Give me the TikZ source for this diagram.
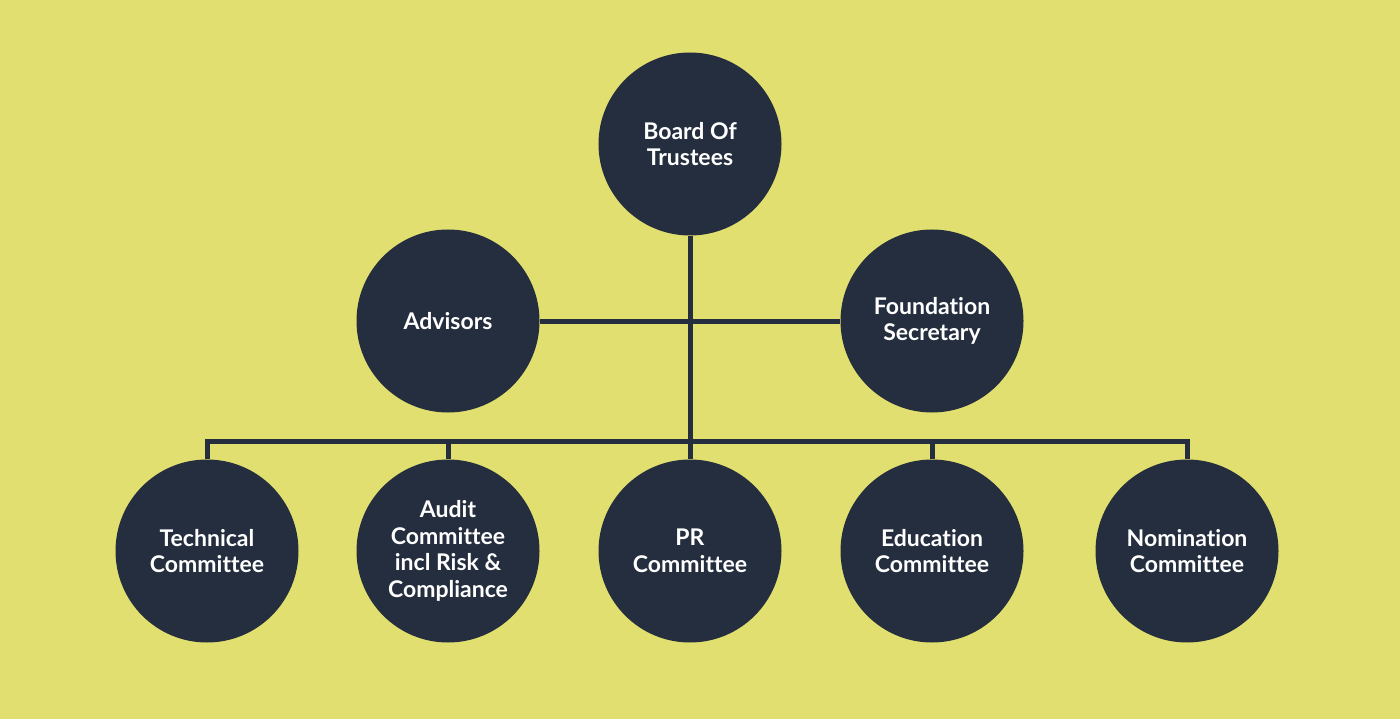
\documentclass[tikz,border=0pt]{standalone}
\usepackage{fontspec}
\setmainfont{Lato}[Ligatures=NoCommon]
\definecolor{bg}{HTML}{E1DF70}
\definecolor{dark}{HTML}{252E3E}
\begin{document}
\begin{tikzpicture}[x=1pt,y=-1pt,
  orgtext/.style={inner sep=0pt,text=white,
    font=\bfseries\fontsize{23}{26.5}\selectfont,align=center},
  org/.style={circle,fill=dark,minimum size=183pt,inner sep=0pt,orgtext},
  link/.style={draw=dark,line width=5pt}]
\fill[bg] (0,0) rectangle (1400,719);
\useasboundingbox (0,0) rectangle (1400,719);
\node[org] (board) at (690,144) {Board Of\\Trustees};
\node[org] (adv) at (448,321) {Advisors};
\node[org] (sec) at (932,321) {Foundation\\Secretary};
\node[org] (tech) at (207,551) {Technical\\Committee};
\node[org] (audit) at (448,551) {};
\node[orgtext] (audittext) at (audit.center) {Audit\\Committee\\incl Risk \&\\Compliance};
\node[org] (pr) at (690,551) {PR\\Committee};
\node[org] (edu) at (932,551) {Education\\Committee};
\node[org] (nom) at (1187,551) {Nomination\\Committee};
\coordinate (busL) at (207,441.5);
\coordinate (busR) at (1187,441.5);
\draw[link] (adv.east) -- (sec.west);
\draw[link] (board.south) -- (pr.north);
\draw[link,line join=miter] (tech.north) -- (busL) -- (busR) -- (nom.north);
\draw[link] (audit.north) -- (audit.north |- busL);
\draw[link] (edu.north) -- (edu.north |- busL);
\end{tikzpicture}
\end{document}
